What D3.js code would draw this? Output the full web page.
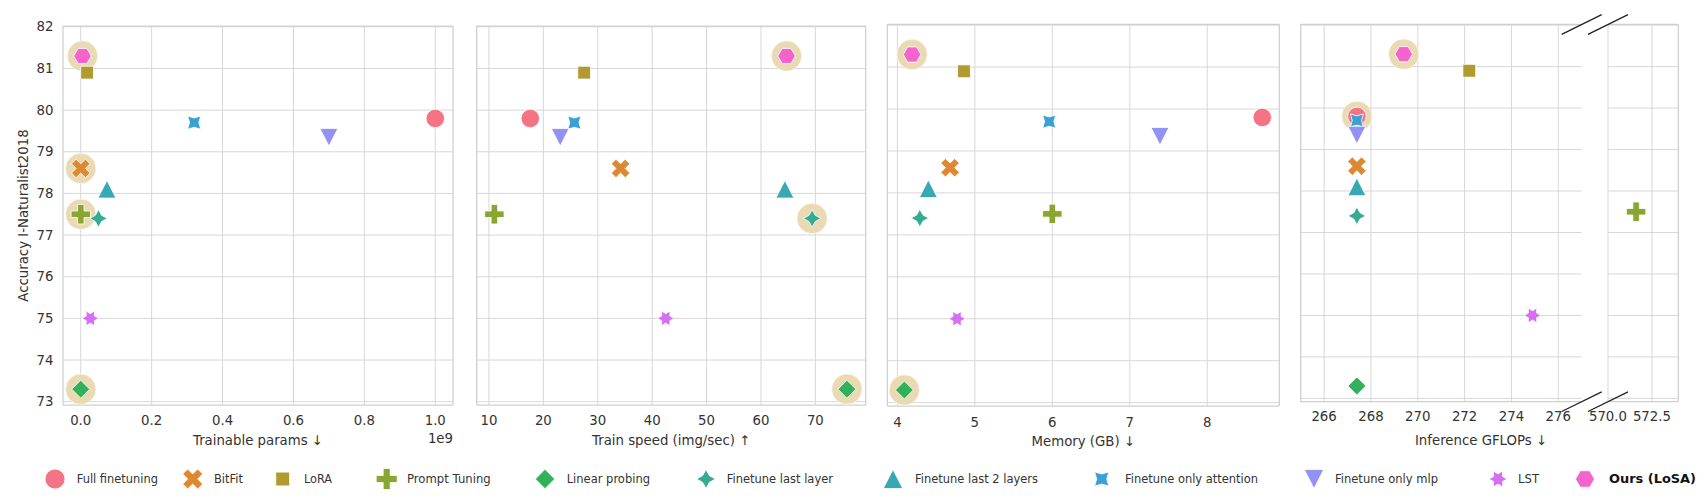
<!DOCTYPE html>
<html><head><meta charset="utf-8">
<script src="https://cdn.jsdelivr.net/npm/d3@7"></script>
<style>
body{margin:0;background:#fff;}
text{font-family:"DejaVu Sans",sans-serif;fill:#333;}
</style>
</head><body>
<svg id="chart" width="1706" height="502"></svg>
<script>
// ---------------- DATA ----------------
const methods = ["Full finetuning","BitFit","LoRA","Prompt Tuning","Linear probing","Finetune last layer","Finetune last 2 layers","Finetune only attention","Finetune only mlp","LST","Ours (LoSA)"];
const markerTypes = ["o","X","square","P","diamond","star4","tri_up","star4r","tri_down","star6","hexagon"];
const colors = ["#f47486","#dc8932","#b19a30","#89a631","#32b15a","#35ab91","#38a8b3","#3aa1d6","#9192f2","#d56ef2","#f564cd"];
const accuracy        = [79.8, 78.6, 80.9, 77.5, 73.3, 77.4, 78.1, 79.7, 79.35, 75.0, 81.3];
const trainableParams = [1.0, 0.0001, 0.018, 0.0002, 0.00002, 0.05, 0.074, 0.32, 0.70, 0.027, 0.005]; // x 1e9
const trainSpeed      = [17.6, 34.2, 27.5, 11.0, 75.8, 69.4, 64.4, 25.7, 23.1, 42.5, 64.7];
const memoryGB        = [8.71, 4.68, 4.86, 6.0, 4.09, 4.29, 4.40, 5.96, 7.39, 4.77, 4.19];
const inferenceGFLOPs = [267.4, 267.4, 272.2, 571.6, 267.4, 267.4, 267.4, 267.4, 267.4, 274.9, 269.4];

const highlightParams = ["Ours (LoSA)","BitFit","Prompt Tuning","Linear probing"];
const highlightSpeed  = ["Ours (LoSA)","Finetune last layer","Linear probing"];
const highlightMemory = ["Ours (LoSA)","Linear probing"];
const highlightFlops  = ["Ours (LoSA)","Full finetuning"];

const yTicks = [73,74,75,76,77,78,79,80,81,82];
const paramTicks = [0.0,0.2,0.4,0.6,0.8,1.0];
const speedTicks = [10,20,30,40,50,60,70];
const memoryTicks = [4,5,6,7,8];
const flopsTicksLow = [266,268,270,272,274,276];
const flopsTicksHigh = [570.0,572.5];

const yLabel = "Accuracy I-Naturalist2018";
const xLabels = ["Trainable params \u2193","Train speed (img/sec) \u2191","Memory (GB) \u2193","Inference GFLOPs \u2193"];

// ---------------- LAYOUT ----------------
const svg = d3.select("#chart");
const GRID = "#d7d7d7", SPINE = "#cfcfcf";
const yDomain = [72.92, 82.02];
const FS = 13.3;

function markerPath(type, S){
  const r = S/2;
  const P = pts => "M" + pts.map(p => p[0].toFixed(2)+","+p[1].toFixed(2)).join("L") + "Z";
  const poly = (n, rot, rr) => d3.range(n).map(k => {const t = Math.PI/2 + 2*Math.PI*k/n + rot*Math.PI/180; return [rr*Math.cos(t), -rr*Math.sin(t)];});
  const star = (n, rot, rr, inner) => d3.range(2*n).map(k => {const t = Math.PI/2 + Math.PI*k/n + rot*Math.PI/180; const q = k%2 ? rr*inner : rr; return [q*Math.cos(t), -q*Math.sin(t)];});
  switch(type){
    case "o": return `M${r},0A${r},${r} 0 1,1 ${-r},0A${r},${r} 0 1,1 ${r},0Z`;
    case "X": { const u = r/2; return P([[-1,-2],[0,-1],[1,-2],[2,-1],[1,0],[2,1],[1,2],[0,1],[-1,2],[-2,1],[-1,0],[-2,-1]].map(p=>[p[0]*u,p[1]*u])); }
    case "P": { const u = r*1.05/3; return P([[-1,-3],[1,-3],[1,-1],[3,-1],[3,1],[1,1],[1,3],[-1,3],[-1,1],[-3,1],[-3,-1],[-1,-1]].map(p=>[p[0]*u,p[1]*u])); }
    case "square": return P(poly(4,45,r*0.98));
    case "diamond": return P(poly(4,0,r*0.97));
    case "star4": return P(star(4,0,r*0.95,0.5));
    case "star4r": return P(star(4,45,r*1.0,0.5));
    case "tri_up": return P([[0,-r],[-r,r],[r,r]].map(p=>[p[0]*0.97,p[1]*0.95]));
    case "tri_down": return P([[0,r],[-r,-r],[r,-r]].map(p=>[p[0]*0.97,p[1]*0.95]));
    case "star6": return P(star(6,30,r*0.92,0.55));
    case "hexagon": return P(poly(6,30,r*0.95));
  }
}
const S = 18.5;

function gridAndTicks(g, x, y, xTicks, fmt, top, bottom, left, right, tickDy){
  g.selectAll(".vg").data(xTicks).join("line")
    .attr("x1", d=>x(d)).attr("x2", d=>x(d)).attr("y1", top).attr("y2", bottom)
    .attr("stroke", GRID).attr("stroke-width", 1);
  g.selectAll(".hg").data(yTicks.filter(t=>y(t) >= top-0.5 && y(t) <= bottom+0.5)).join("line").attr("class","hg")
    .attr("x1", left).attr("x2", right).attr("y1", d=>y(d)).attr("y2", d=>y(d))
    .attr("stroke", GRID).attr("stroke-width", 1);
  g.selectAll(".xt").data(xTicks).join("text").attr("class","xt")
    .attr("x", d=>x(d)).attr("y", bottom + tickDy).attr("text-anchor","middle")
    .attr("dominant-baseline","central").style("font-size", FS+"px").text(fmt);
}

function drawPoints(g, x, y, xs, highlights, domainX){
  const idx = d3.range(methods.length).filter(i => xs[i] >= domainX[0] && xs[i] <= domainX[1]);
  g.selectAll(".hl").data(idx.filter(i => highlights.includes(methods[i]))).join("circle").attr("class","hl")
    .attr("cx", i=>x(xs[i])).attr("cy", i=>y(accuracy[i])).attr("r", 15.2)
    .attr("fill", "#e9dab3").attr("stroke", "#ffffff").attr("stroke-width", 0.6);
  g.selectAll(".pt").data(idx).join("path").attr("class","pt")
    .attr("transform", i=>`translate(${x(xs[i])},${y(accuracy[i])})`)
    .attr("d", i=>markerPath(markerTypes[i], S))
    .attr("fill", i=>colors[i]).attr("stroke","#fff").attr("stroke-width",0.8);
}

function spines(g, top, bottom, left, right, which){
  const segs = [];
  if (which.includes("t")) segs.push([left, top, right, top]);
  if (which.includes("b")) segs.push([left, bottom, right, bottom]);
  if (which.includes("l")) segs.push([left, top, left, bottom]);
  if (which.includes("r")) segs.push([right, top, right, bottom]);
  g.selectAll(".sp").data(segs).join("line").attr("class","sp")
    .attr("x1",d=>d[0]).attr("y1",d=>d[1]).attr("x2",d=>d[2]).attr("y2",d=>d[3])
    .attr("stroke", SPINE).attr("stroke-width", 1.25);
}

// Panel 1
(function(){
  const L=63, R=453, T=26, B=405;
  const x = d3.scaleLinear().domain([-0.05,1.05]).range([L,R]);
  const y = d3.scaleLinear().domain(yDomain).range([B,T]);
  const g = svg.append("g");
  gridAndTicks(g, x, y, paramTicks, d=>d.toFixed(1), T, B, L, R, 15.7);
  spines(g, T, B, L, R, "tblr");
  drawPoints(g.append("g"), x, y, trainableParams, highlightParams, x.domain());
  g.selectAll(".yt").data(yTicks).join("text").attr("class","yt")
    .attr("x", L-9.5).attr("y", d=>y(d)).attr("text-anchor","end").attr("dominant-baseline","central")
    .style("font-size", FS+"px").text(d=>d);
  g.append("text").attr("x", R).attr("y", B+33).attr("text-anchor","end").attr("dominant-baseline","central")
    .style("font-size", FS+"px").text("1e9");
  g.append("text").attr("x", (L+R)/2).attr("y", B+35.5).attr("text-anchor","middle").attr("dominant-baseline","central")
    .style("font-size", FS+"px").text(xLabels[0]);
  g.append("text").attr("transform", `translate(23.5,${(T+B)/2}) rotate(-90)`).attr("text-anchor","middle")
    .attr("dominant-baseline","central").style("font-size", FS+"px").text(yLabel);
})();

// Panel 2
(function(){
  const L=476.7, R=865.7, T=26, B=405;
  const x = d3.scaleLinear().domain([7.75,79.25]).range([L,R]);
  const y = d3.scaleLinear().domain(yDomain).range([B,T]);
  const g = svg.append("g");
  gridAndTicks(g, x, y, speedTicks, d=>d, T, B, L, R, 15.7);
  spines(g, T, B, L, R, "tblr");
  drawPoints(g.append("g"), x, y, trainSpeed, highlightSpeed, x.domain());
  g.append("text").attr("x", (L+R)/2).attr("y", B+35.5).attr("text-anchor","middle").attr("dominant-baseline","central")
    .style("font-size", FS+"px").text(xLabels[1]);
})();

// Panel 3
(function(){
  const L=887.3, R=1279.3, T=24.3, B=406;
  const x = d3.scaleLinear().domain([3.87,8.93]).range([L,R]);
  const y = d3.scaleLinear().domain(yDomain).range([B,T]);
  const g = svg.append("g");
  gridAndTicks(g, x, y, memoryTicks, d=>d, T, B, L, R, 16.5);
  spines(g, T, B, L, R, "tblr");
  drawPoints(g.append("g"), x, y, memoryGB, highlightMemory, x.domain());
  g.append("text").attr("x", (L+R)/2).attr("y", B+35.5).attr("text-anchor","middle").attr("dominant-baseline","central")
    .style("font-size", FS+"px").text(xLabels[2]);
})();

// Panel 4 (broken x axis)
(function(){
  const T=24.3, B=401.7;
  const L1=1300.7, R1=1581.7, L2=1608, R2=1678.3;
  const y = d3.scaleLinear().domain(yDomain).range([B,T]);
  const x1 = d3.scaleLinear().domain([265,277]).range([L1,R1]);
  const x2 = d3.scaleLinear().domain([570,574]).range([L2,R2]);
  const g1 = svg.append("g"), g2 = svg.append("g");
  gridAndTicks(g1, x1, y, flopsTicksLow, d=>d, T, B, L1, R1, 14.5);
  gridAndTicks(g2, x2, y, flopsTicksHigh, d=>d.toFixed(1), T, B, L2, R2, 14.5);
  spines(g1, T, B, L1, R1, "tbl");
  spines(g2, T, B, L2, R2, "tbr");
  drawPoints(g1.append("g"), x1, y, inferenceGFLOPs, highlightFlops, x1.domain());
  drawPoints(g2.append("g"), x2, y, inferenceGFLOPs, highlightFlops, x2.domain());
  const dx = 20, dy = 9.8;
  const marks = [[R1,T+0.2],[L2,T+0.2],[R1,B],[L2,B]];
  svg.append("g").selectAll("line").data(marks).join("line")
    .attr("x1", d=>d[0]-dx).attr("y1", d=>d[1]+dy).attr("x2", d=>d[0]+dx).attr("y2", d=>d[1]-dy)
    .attr("stroke", "#222").attr("stroke-width", 1.3);
  svg.append("text").attr("x", 1481).attr("y", B+39).attr("text-anchor","middle").attr("dominant-baseline","central")
    .style("font-size", FS+"px").text(xLabels[3]);
})();

// Legend
(function(){
  const markerX = [55,192.7,282.7,386.7,545,706,893,1101.7,1314,1498,1585];
  const textX   = [76.7,214,304,407,566.7,726.7,915,1125,1335,1518,1609];
  const textW   = [81.3,29,28,83.7,83.3,106.3,123,133,103,21,87];
  const ly = 479;
  const g = svg.append("g");
  const items = d3.range(methods.length);
  g.selectAll("path").data(items).join("path")
    .attr("transform", i=>`translate(${markerX[i]},${ly})`)
    .attr("d", i=>markerPath(markerTypes[i], S*1.08))
    .attr("fill", i=>colors[i]).attr("stroke","#fff").attr("stroke-width",0.8);
  g.selectAll("text").data(items).join("text")
    .attr("x", i=>textX[i]).attr("y", ly-1).attr("dominant-baseline","central")
    .attr("textLength", i=>textW[i]).attr("lengthAdjust","spacingAndGlyphs")
    .style("font-size", i=> i===10 ? "13px" : "12.5px")
    .style("font-weight", i=> i===10 ? "bold" : "normal")
    .style("fill", i=> i===10 ? "#111" : "#333")
    .text(i=>methods[i]);
})();
</script>
</body></html>
